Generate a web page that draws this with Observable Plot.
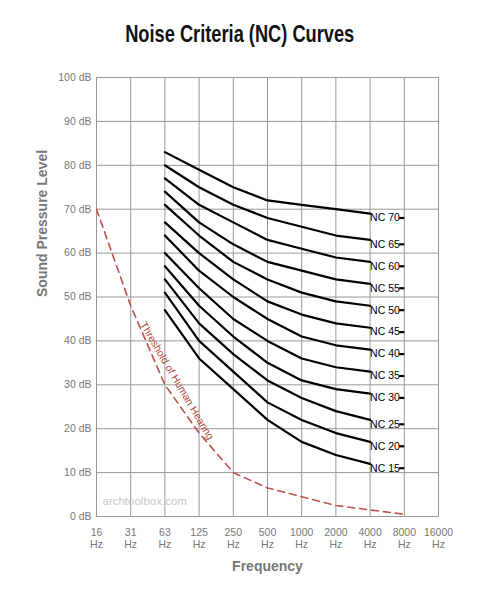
<!DOCTYPE html>
<html>
<head>
<meta charset="utf-8">
<script src="https://cdn.jsdelivr.net/npm/d3@7"></script>
<script src="https://cdn.jsdelivr.net/npm/@observablehq/plot@0.6"></script>
<style>
  html, body { margin: 0; padding: 0; background: #fff; }
  #title {
    width: 480px; height: 60px; box-sizing: border-box; padding-top: 19px;
    font-family: "Liberation Sans Narrow", "Liberation Sans", sans-serif;
    font-size: 24px; font-weight: bold; line-height: 30px; text-align: center; color: #111;
  }
  #title span { display: inline-block; transform: scaleX(0.76); transform-origin: center; }
</style>
</head>
<body>
<div id="title"><span>Noise Criteria (NC) Curves</span></div>
<div id="chart"></div>
<script>
// Octave-band centre frequencies (tick labels), positioned by index
const freqLabels = ["16", "31", "63", "125", "250", "500", "1000", "2000", "4000", "8000", "16000"];
// NC curve bands: 63 Hz ... 8000 Hz (indices 2..9)
const ncBandIndex = [2, 3, 4, 5, 6, 7, 8, 9];
const ncLevels = [15, 20, 25, 30, 35, 40, 45, 50, 55, 60, 65, 70];
const nc15 = [47, 36, 29, 22, 17, 14, 12, 11];
const nc20 = [51, 40, 33, 26, 22, 19, 17, 16];
const nc25 = [54, 44, 37, 31, 27, 24, 22, 21];
const nc30 = [57, 48, 41, 35, 31, 29, 28, 27];
const nc35 = [60, 52, 45, 40, 36, 34, 33, 32];
const nc40 = [64, 56, 50, 45, 41, 39, 38, 37];
const nc45 = [67, 60, 54, 49, 46, 44, 43, 42];
const nc50 = [71, 64, 58, 54, 51, 49, 48, 47];
const nc55 = [74, 67, 62, 58, 56, 54, 53, 52];
const nc60 = [77, 71, 67, 63, 61, 59, 58, 57];
const nc65 = [80, 75, 71, 68, 66, 64, 63, 62];
const nc70 = [83, 79, 75, 72, 71, 70, 69, 68];
const ncValues = [nc15, nc20, nc25, nc30, nc35, nc40, nc45, nc50, nc55, nc60, nc65, nc70];
// Threshold of human hearing, 16 Hz ... 8000 Hz (indices 0..9)
const thresholdDb = [70, 48, 30, 19, 10, 6.5, 4.5, 2.5, 1.5, 0.5];
const yTicks = [0, 10, 20, 30, 40, 50, 60, 70, 80, 90, 100];
const xTicks = freqLabels.map((_, i) => i);

const ncRows = [];
ncLevels.forEach((nc, k) => {
  ncValues[k].forEach((db, j) => ncRows.push({nc, i: ncBandIndex[j], db}));
});
const lastBand = ncBandIndex[ncBandIndex.length - 1];
const lineRows = ncRows.filter(d => d.i < lastBand);
const labelRows = ncRows.filter(d => d.i === lastBand);
const thrRows = thresholdDb.map((db, i) => ({i, db}));

const red = "#c0504d";
const plot = Plot.plot({
  width: 480,
  height: 540,
  marginTop: 17,
  marginBottom: 84,
  marginLeft: 96,
  marginRight: 42,
  style: {fontFamily: "Liberation Sans, Arial, sans-serif", fontSize: "10.5px", color: "#777", background: "#fff"},
  x: {type: "linear", domain: [0, freqLabels.length - 1]},
  y: {domain: [0, 100]},
  marks: [
    Plot.gridX(xTicks, {stroke: "#999", strokeOpacity: 1}),
    Plot.gridY(yTicks, {stroke: "#999", strokeOpacity: 1}),
    Plot.frame({stroke: "#999"}),
    Plot.axisX(xTicks, {tickSize: 0, tickPadding: 11, label: null, lineHeight: 1.15, tickFormat: i => freqLabels[i] + "\nHz"}),
    Plot.axisY(yTicks, {tickSize: 0, tickPadding: 5, label: null, tickFormat: d => `${d} dB`}),
    Plot.text(["archtoolbox.com"], {frameAnchor: "bottom-left", dx: 6, dy: -12, fill: "#c8c8c8", fontSize: 11.5, textAnchor: "start"}),
    Plot.line(thrRows, {x: "i", y: "db", stroke: red, strokeWidth: 1.6, strokeDasharray: "7,5"}),
    Plot.text(thrRows.filter(d => d.i === 2), {x: "i", y: "db", text: () => "Threshold of Human Hearing", rotate: 59.5, dx: 12, dy: -4, fill: "#b5483a", fontSize: 10.5}),
    Plot.line(lineRows, {x: "i", y: "db", z: "nc", stroke: "#000", strokeWidth: 2.2}),
    Plot.link(labelRows, {x1: d => d.i - 0.15, x2: "i", y1: "db", y2: "db", stroke: "#000", strokeWidth: 2.2}),
    Plot.text(labelRows, {x: d => d.i - 1, y: "db", text: d => `NC ${d.nc}`, textAnchor: "start", dx: 0, fill: "#000", fontSize: 10.5}),
    Plot.text(["Sound Pressure Level"], {frameAnchor: "left", dx: -54, rotate: -90, fill: "#777", fontSize: 14, fontWeight: "bold"}),
    Plot.text(["Frequency"], {frameAnchor: "bottom", dy: 54, fill: "#777", fontSize: 14, fontWeight: "bold"})
  ]
});
document.getElementById("chart").appendChild(plot);
</script>
</body>
</html>
